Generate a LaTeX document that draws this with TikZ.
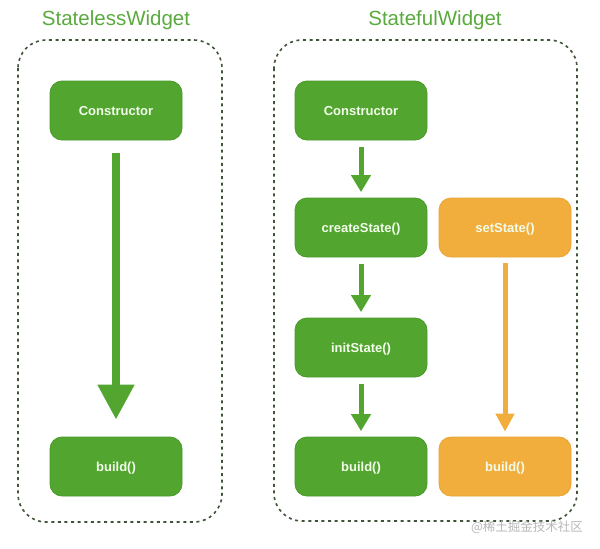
\documentclass[tikz,border=0pt]{standalone}
\usepackage{fontspec}
\setmainfont{Liberation Sans}
\newfontfamily\cjk{Noto Sans CJK SC}
\usetikzlibrary{arrows.meta}
\definecolor{gr}{HTML}{52A62F}
\definecolor{grd}{HTML}{4A9A2A}
\definecolor{org}{HTML}{F2AE3C}
\definecolor{orgd}{HTML}{E9A533}
\definecolor{ttl}{HTML}{5BAA3F}
\definecolor{dsh}{HTML}{3F5439}
\definecolor{lbl}{HTML}{F2FBEA}
\tikzset{
  gbox/.style={rectangle, rounded corners=12pt, fill=gr, draw=grd, line width=0.8pt,
    minimum width=132pt, minimum height=59pt, text=lbl, font=\bfseries\fontsize{13}{15}\selectfont,
    text height=10pt, text depth=1pt},
  obox/.style={gbox, fill=org, draw=orgd},
  frame/.style={draw=dsh, line width=1.6pt, dash pattern=on 3pt off 3.6pt, rounded corners=28pt},
  ttlstyle/.style={text=ttl, font=\fontsize{20.5}{24}\selectfont},
  bigarr/.style={draw=gr, line width=8pt, -{Triangle[width=35pt,length=35pt]}, shorten <=13pt, shorten >=17pt},
  garr/.style={draw=gr, line width=5pt, -{Triangle[width=19pt,length=17pt]}, shorten <=6.5pt, shorten >=5.5pt},
  oarr/.style={draw=org, line width=5pt, -{Triangle[width=18pt,length=18pt]}, shorten <=6pt, shorten >=5pt},
}
\begin{document}
\begin{tikzpicture}[x=1pt,y=-1pt]
\useasboundingbox[fill=white] (0,0) rectangle (600,549);
% frames
\draw[frame] (18,40) rectangle (222,522);
\draw[frame] (274,40) rectangle (577,521);
% titles
\node[ttlstyle] (t1) at (116,20) {StatelessWidget};
\node[ttlstyle] (t2) at (435,20) {StatefulWidget};
% left
\node[gbox] (lc) at (116,110.5) {Constructor};
\node[gbox] (lb) at (116,466.5) {build()};
\draw[bigarr] (lc) -- (lb);
% right
\node[gbox] (rc) at (361,110.5) {Constructor};
\node[gbox] (rcs) at (361,227.5) {createState()};
\node[gbox] (ri) at (361,347.5) {initState()};
\node[gbox] (rb) at (361,466.5) {build()};
\node[obox] (ss) at (505,227.5) {setState()};
\node[obox] (ob) at (505,466.5) {build()};
\draw[garr] (rc) -- (rcs);
\draw[garr] (rcs) -- (ri);
\draw[garr] (ri) -- (rb);
\draw[oarr] (ss) -- (ob);
% watermark
\node[text=black!28, font=\cjk\fontsize{12.5}{14}\selectfont] (wm) at (527,527) {@稀土掘金技术社区};
\end{tikzpicture}
\end{document}
